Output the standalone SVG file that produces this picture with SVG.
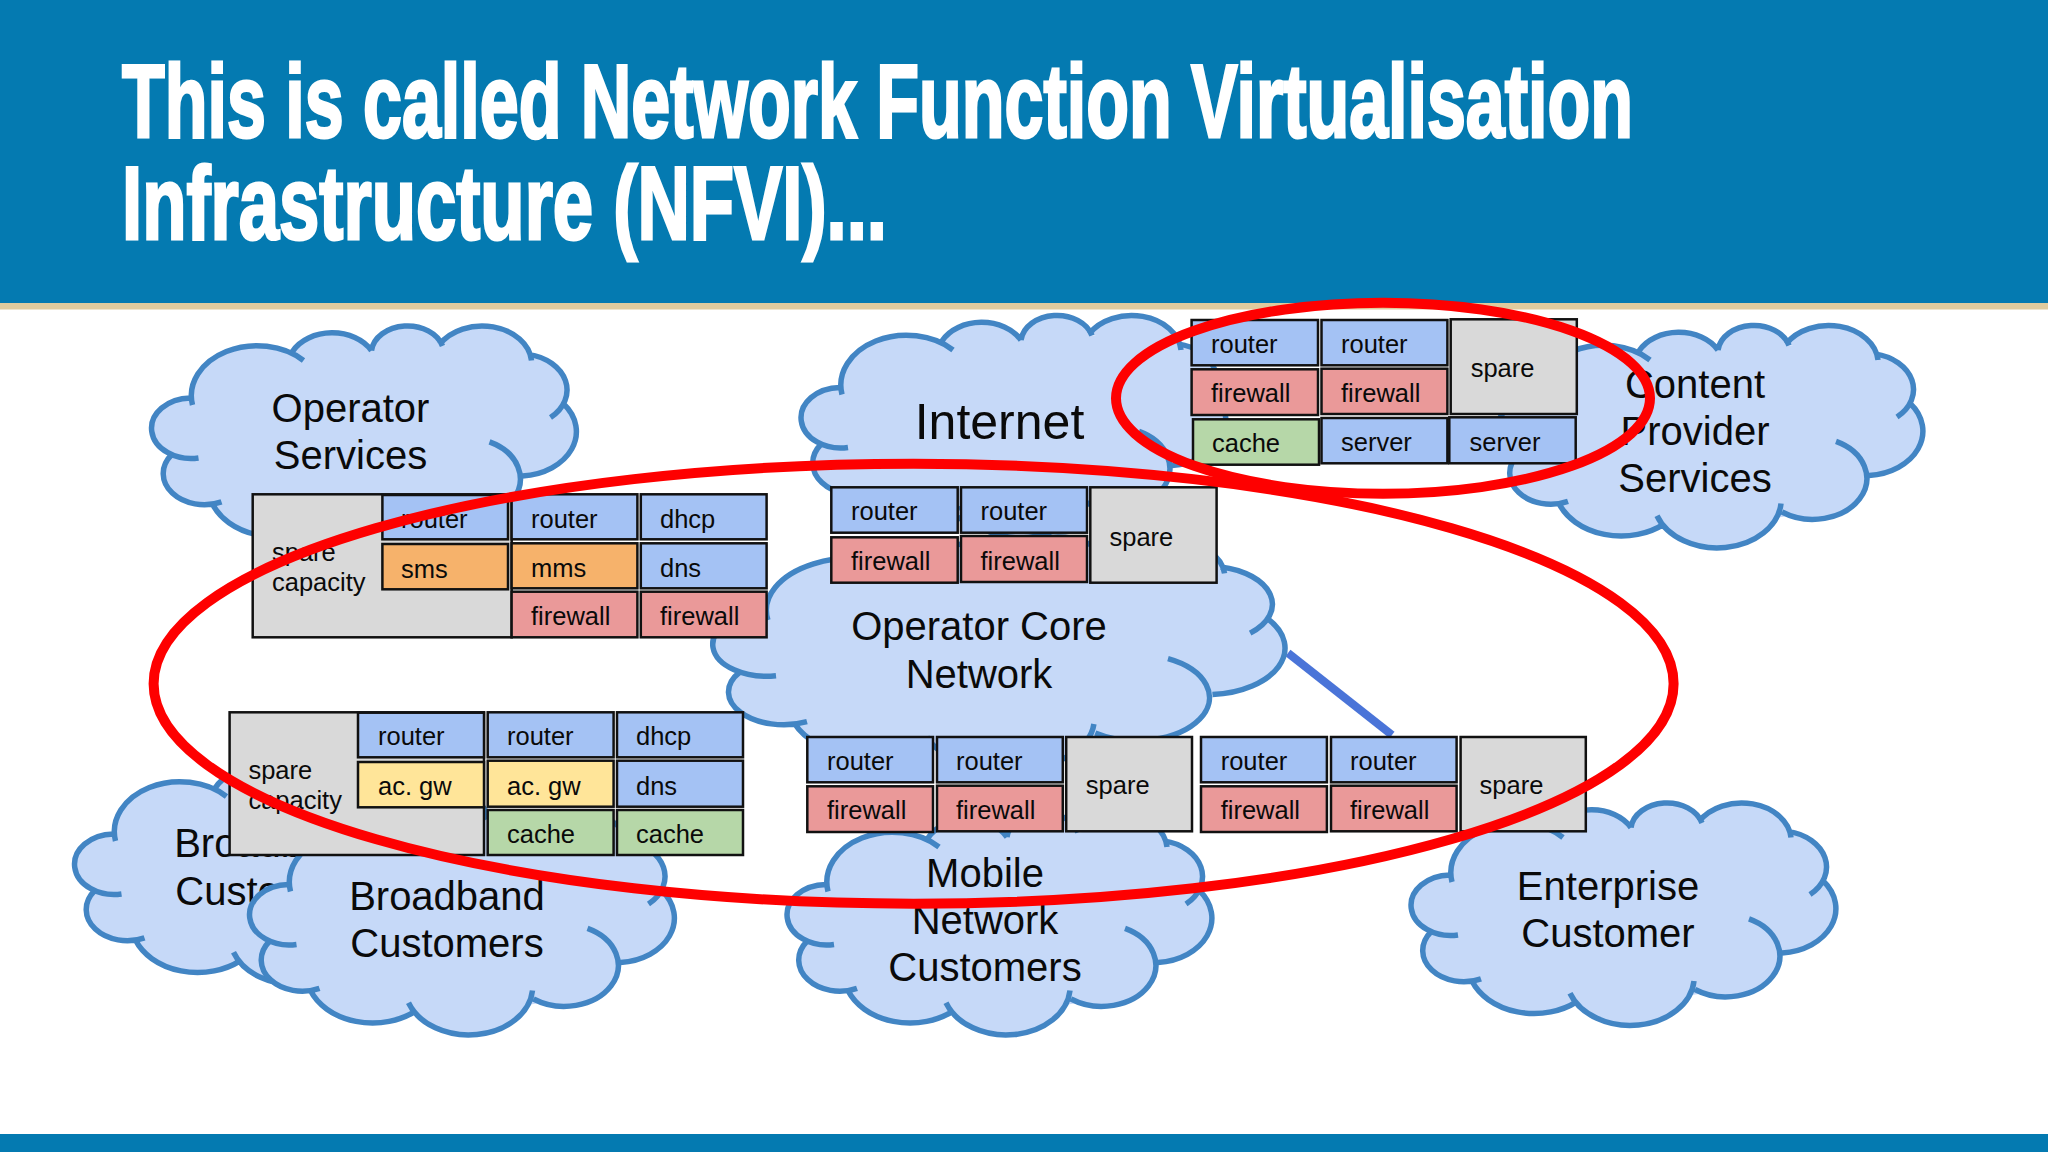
<svg xmlns="http://www.w3.org/2000/svg" xmlns:xlink="http://www.w3.org/1999/xlink" width="2048" height="1152" viewBox="0 0 2048 1152">
<style>
text{font-family:"Liberation Sans",Arial,sans-serif;fill:#0a0a0a}
.t{font-size:40px;text-anchor:middle}
.c{font-size:25.5px}
.title{font-family:"Liberation Sans Narrow","Liberation Sans",Arial,sans-serif;font-weight:700;font-size:104px;fill:#fff;stroke:#fff;stroke-width:3px}
.cf{fill:#c6d9f8;stroke:none}
.cs{fill:none;stroke:#4285c4;stroke-width:5.5;vector-effect:non-scaling-stroke}
rect.b,rect.r,rect.o,rect.y,rect.g,rect.s{stroke:#111;stroke-width:2.5}
.b{fill:#a4c2f4}.r{fill:#ea9999}.o{fill:#f6b26b}.y{fill:#ffe599}.g{fill:#b6d7a8}.s{fill:#d9d9d9}
.ring{fill:none;stroke:#fe0000;stroke-width:10}
</style>
<defs>
<g id="cloud">
<path class="cf" d="M49 134A39.8 30.25 0 1 1 41 74ZM43 81A65.6 49.9 0 0 1 154 36.5ZM143 27.4A44.5 33.8 0 0 1 222 26.6ZM222 26.6A36.3 27.6 0 0 1 293 22ZM290 20.5A49.5 37.6 0 0 1 382 36.5ZM379 30.4A47.7 36.3 0 0 1 401 93.5ZM414 79.8A58.6 44.5 0 0 1 373 152ZM340 117.8A54 41 0 1 1 286 188.5ZM285 180A64 48.6 0 0 1 161 192.3ZM168 200.6A66.5 50.5 0 0 1 63 180ZM72 177.8A41 31.2 0 0 1 22 130.7ZM41 74L95 42L143 27L182 18L222 26L257 12L293 22L335 15L382 36L395 60L414 80L415 115L373 152L350 185L275 195L220 210L170 200L115 200L63 180L30 165L22 131L20 110Z"/>
<path class="cs" d="M49 134A39.8 30.25 0 1 1 41 74M43 81A65.6 49.9 0 0 1 154 36.5M143 27.4A44.5 33.8 0 0 1 222 26.6M222 26.6A36.3 27.6 0 0 1 293 22M290 20.5A49.5 37.6 0 0 1 382 36.5M379 30.4A47.7 36.3 0 0 1 401 93.5M414 79.8A58.6 44.5 0 0 1 373 152M340 117.8A54 41 0 1 1 286 188.5M285 180A64 48.6 0 0 1 161 192.3M168 200.6A66.5 50.5 0 0 1 63 180M72 177.8A41 31.2 0 0 1 22 130.7"/>
</g>
</defs>
<rect width="2048" height="1152" fill="#fff"/>
<g id="header">
<rect width="2048" height="303" fill="#047ab1"/>
<rect y="303" width="2048" height="6.5" fill="#dfcb9e"/>
<rect y="1134" width="2048" height="18" fill="#047ab1"/>
<text class="title" x="122" y="137" textLength="1511" lengthAdjust="spacingAndGlyphs">This is called Network Function Virtualisation</text>
<text class="title" x="122" y="239" textLength="765" lengthAdjust="spacingAndGlyphs">Infrastructure (NFVI)...</text>
</g>
<g id="connectors">
<path d="M1288 653L1392 735" fill="none" stroke="#4a74d8" stroke-width="8"/>
</g>
<g id="cloud-broadband-back">
<use xlink:href="#cloud" href="#cloud" transform="translate(72.5 760)"/>
<text class="t" x="272" y="856.500">Broadband</text><text class="t" x="272" y="904.500">Customers</text>
</g>
<g id="cloud-broadband">
<use xlink:href="#cloud" href="#cloud" transform="translate(247.5 810.500)"/>
<text class="t" x="447" y="909.500">Broadband</text><text class="t" x="447" y="956.500">Customers</text>
</g>
<g id="cloud-operator-services">
<use xlink:href="#cloud" href="#cloud" transform="translate(149.5 324)"/>
<text class="t" x="350.500" y="421.500">Operator</text><text class="t" x="350.500" y="468.500">Services</text>
</g>
<g id="cloud-internet">
<use xlink:href="#cloud" href="#cloud" transform="translate(799 313.500)"/>
<text class="t" style="font-size:50px" x="999.500" y="439">Internet</text>
</g>
<g id="cloud-content">
<use xlink:href="#cloud" href="#cloud" transform="translate(1496 323.500)"/>
<text class="t" x="1695" y="397.500">Content</text><text class="t" x="1695" y="444.500">Provider</text><text class="t" x="1695" y="491.500">Services</text>
</g>
<g id="cloud-mobile">
<use xlink:href="#cloud" href="#cloud" transform="translate(785 810.500)"/>
<text class="t" x="985" y="886.500">Mobile</text><text class="t" x="985" y="933.500">Network</text><text class="t" x="985" y="980.500">Customers</text>
</g>
<g id="cloud-enterprise">
<use xlink:href="#cloud" href="#cloud" transform="translate(1409 801)"/>
<text class="t" x="1608" y="899.500">Enterprise</text><text class="t" x="1608" y="946.500">Customer</text>
</g>
<g id="cloud-core">
<use xlink:href="#cloud" href="#cloud" transform="translate(710 535) scale(1.347 1.05)"/>
<text class="t" x="979" y="639.500">Operator Core</text><text class="t" x="979" y="687.500">Network</text>
</g>
<g id="rack-operator-services">
<rect class="s" x="252.700" y="494.300" width="259" height="143"/>
<rect class="b" x="382.400" y="495" width="125.600" height="44.300"/>
<rect class="o" x="382.400" y="544" width="125.600" height="45.300"/>
<rect class="b" x="511.600" y="494.300" width="125.800" height="45"/>
<rect class="o" x="511.600" y="543.300" width="125.800" height="45"/>
<rect class="r" x="511.600" y="591.700" width="125.800" height="45.600"/>
<rect class="b" x="640.800" y="494.300" width="125.800" height="45"/>
<rect class="b" x="640.800" y="543.300" width="125.800" height="45"/>
<rect class="r" x="640.800" y="591.700" width="125.800" height="45.600"/>
<text class="c" x="272" y="560.500">spare</text><text class="c" x="272" y="590.500">capacity</text>
<text class="c" x="401" y="527.500">router</text><text class="c" x="401" y="577.500">sms</text>
<text class="c" x="531" y="527.500">router</text><text class="c" x="531" y="576.500">mms</text><text class="c" x="531" y="624.500">firewall</text>
<text class="c" x="660" y="527.500">dhcp</text><text class="c" x="660" y="576.500">dns</text><text class="c" x="660" y="624.500">firewall</text>
</g>
<g id="rack-broadband">
<rect class="s" x="229.600" y="712.300" width="254.400" height="142.700"/>
<rect class="b" x="358" y="712.700" width="126" height="44.600"/>
<rect class="y" x="358" y="762" width="126" height="45.300"/>
<rect class="b" x="487.700" y="712.300" width="125.900" height="45"/>
<rect class="y" x="487.700" y="760.700" width="125.900" height="46"/>
<rect class="g" x="487.700" y="810" width="125.900" height="45"/>
<rect class="b" x="617" y="712.300" width="126" height="45"/>
<rect class="b" x="617" y="760.700" width="126" height="46"/>
<rect class="g" x="617" y="810" width="126" height="45"/>
<text class="c" x="248.400" y="778.500">spare</text><text class="c" x="248.400" y="808.500">capacity</text>
<text class="c" x="378" y="744.500">router</text><text class="c" x="378" y="794.500">ac. gw</text>
<text class="c" x="507" y="744.500">router</text><text class="c" x="507" y="794.500">ac. gw</text><text class="c" x="507" y="842.500">cache</text>
<text class="c" x="636" y="744.500">dhcp</text><text class="c" x="636" y="794.500">dns</text><text class="c" x="636" y="842.500">cache</text>
</g>
<g id="rack-core-top">
<rect class="b" x="831.300" y="487.300" width="126.400" height="45.400"/>
<rect class="r" x="831.300" y="537.300" width="126.400" height="45.400"/>
<rect class="b" x="961" y="487.300" width="126" height="45.400"/>
<rect class="r" x="961" y="536" width="126" height="46"/>
<rect class="s" x="1090.300" y="487.300" width="126.300" height="95.400"/>
<text class="c" x="851" y="519.500">router</text><text class="c" x="851" y="569.500">firewall</text>
<text class="c" x="980.500" y="519.500">router</text><text class="c" x="980.500" y="569.500">firewall</text>
<text class="c" x="1109.500" y="545.500">spare</text>
</g>
<g id="rack-content">
<rect class="b" x="1191.600" y="320" width="126.400" height="45.300"/>
<rect class="r" x="1191.600" y="369.300" width="126.400" height="45.700"/>
<rect class="g" x="1193" y="419.300" width="126" height="45.400"/>
<rect class="b" x="1321.500" y="320" width="125.900" height="45.300"/>
<rect class="r" x="1321.500" y="368.700" width="125.900" height="45.300"/>
<rect class="b" x="1321.500" y="418" width="125.900" height="45.300"/>
<rect class="s" x="1450.700" y="319.300" width="126.100" height="94.700"/>
<rect class="b" x="1449.300" y="417.300" width="126.400" height="46"/>
<text class="c" x="1211" y="352.500">router</text><text class="c" x="1211" y="401.500">firewall</text><text class="c" x="1212" y="451.500">cache</text>
<text class="c" x="1341" y="352.500">router</text><text class="c" x="1341" y="401.500">firewall</text><text class="c" x="1341" y="450.500">server</text>
<text class="c" x="1470.700" y="376.500">spare</text><text class="c" x="1469.600" y="450.500">server</text>
</g>
<g id="rack-mobile">
<rect class="b" x="807.300" y="737" width="125.700" height="45.300"/>
<rect class="r" x="807.300" y="786.300" width="125.700" height="45.700"/>
<rect class="b" x="937" y="737" width="125.800" height="45.300"/>
<rect class="r" x="937" y="785.700" width="125.800" height="45.600"/>
<rect class="s" x="1066.200" y="737" width="125.800" height="94.300"/>
<text class="c" x="827" y="769.500">router</text><text class="c" x="827" y="818.500">firewall</text>
<text class="c" x="956" y="769.500">router</text><text class="c" x="956" y="818.500">firewall</text>
<text class="c" x="1085.800" y="793.500">spare</text>
</g>
<g id="rack-enterprise">
<rect class="b" x="1201" y="737" width="125.900" height="45.300"/>
<rect class="r" x="1201" y="786.300" width="125.900" height="45.700"/>
<rect class="b" x="1331" y="737" width="125.600" height="45.300"/>
<rect class="r" x="1331" y="785.700" width="125.600" height="45.600"/>
<rect class="s" x="1460.600" y="737" width="125.200" height="94.300"/>
<text class="c" x="1220.700" y="769.500">router</text><text class="c" x="1220.700" y="818.500">firewall</text>
<text class="c" x="1350" y="769.500">router</text><text class="c" x="1350" y="818.500">firewall</text>
<text class="c" x="1479.600" y="793.500">spare</text>
</g>
<g id="highlights">
<ellipse class="ring" cx="913.600" cy="683.700" rx="760" ry="220"/>
<ellipse class="ring" cx="1383" cy="398.300" rx="267" ry="95.500"/>
</g>
</svg>
